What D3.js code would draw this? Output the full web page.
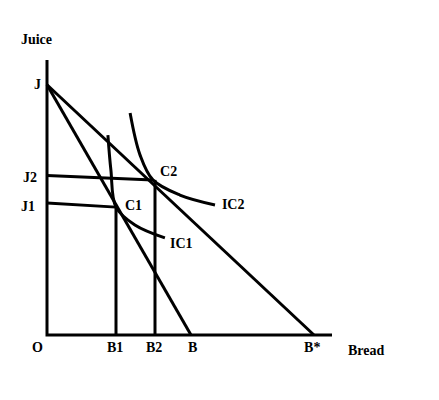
<!DOCTYPE html>
<html><head><meta charset="utf-8">
<script src="https://cdn.jsdelivr.net/npm/d3@7"></script>
<style>body{margin:0;background:#fff}text{font-family:"Liberation Serif",serif;font-weight:bold;font-size:14px}</style>
</head><body><div id="plot"></div>
<script>
// economic units: bread on x, juice on y
var budgetJB = [[0, 91], [48, 0]];
var budgetJBstar = [[0, 91], [89, 0]];
var lineJ2 = [[0, 58], [35.3, 56.4]];
var lineJ1 = [[0, 48], [23, 46.5]];
var dropB1 = [[23, 46.5], [23, 0]];
var dropB2 = [[36, 56.4], [36, 0]];
var ic1 = [[20.3, 72.7], [21.3, 60], [23, 46.5], [29.3, 40], [39.3, 35.3]];
var ic2 = [[27.7, 80.7], [31, 65.5], [35.3, 56.4], [44.3, 50.9], [56, 47.3]];
var axisLabels = [["Juice", -8.7, 106], ["J", -4.3, 89.5], ["J2", -8, 55.5], ["J1", -8.7, 45], ["O", -5, -6],
    ["B1", 20, -6.3], ["B2", 33, -6.3], ["B", 47, -6.3], ["B*", 85.7, -6.3], ["Bread", 100.3, -7.3]];
var pointLabels = [["C1", 26, 45.5], ["C2", 37.7, 57.8], ["IC1", 41, 31.5], ["IC2", 58.3, 46]];

var width = 439, height = 400;
var x = d3.scaleLinear().domain([0, 100]).range([47, 347]);
var y = d3.scaleLinear().domain([0, 100]).range([335, 60]);

var svg = d3.select("#plot").append("svg").attr("width", width).attr("height", height);

var line = d3.line().x(function(d) { return x(d[0]); }).y(function(d) { return y(d[1]); });
var curve = d3.line().curve(d3.curveCatmullRom).x(function(d) { return x(d[0]); }).y(function(d) { return y(d[1]); });

// axes
svg.append("path").attr("d", line([[0, 100], [0, 0], [95, 0]])).attr("stroke", "black").attr("stroke-width", 3).attr("fill", "none");

[budgetJB, budgetJBstar, lineJ2, lineJ1, dropB1, dropB2].forEach(function(seg) {
    svg.append("path").attr("d", line(seg)).attr("stroke", "black").attr("stroke-width", 3).attr("fill", "none");
});
[ic1, ic2].forEach(function(c) {
    svg.append("path").attr("d", curve(c)).attr("stroke", "black").attr("stroke-width", 3).attr("fill", "none");
});

svg.selectAll("text.lab").data(axisLabels.concat(pointLabels)).enter().append("text")
    .attr("class", "lab")
    .attr("x", function(d) { return x(d[1]); })
    .attr("y", function(d) { return y(d[2]); })
    .text(function(d) { return d[0]; });
</script></body></html>
